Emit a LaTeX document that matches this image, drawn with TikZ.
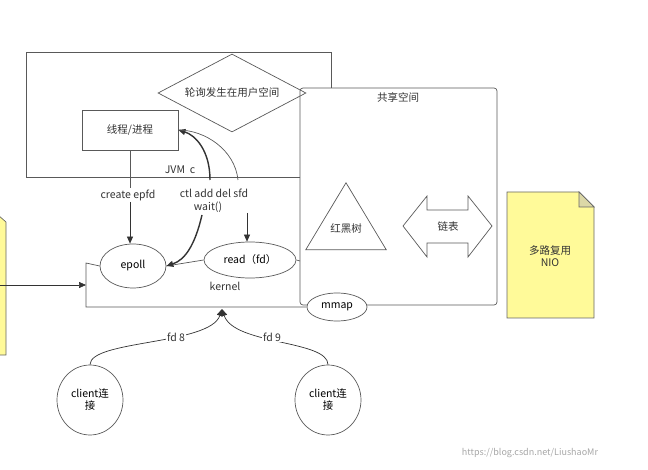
\documentclass[tikz,border=0pt]{standalone}
\usepackage{fontspec}
\setmainfont{Noto Sans CJK SC}
\usetikzlibrary{shapes.geometric,arrows.meta}
\begin{document}
\begin{tikzpicture}[x=1pt,y=-1pt,line width=0.7pt,draw=black!65,
  lbl/.style={font=\fontsize{10.5}{12}\selectfont,text=black!80},
  ell/.style={draw=black!65,ellipse,inner sep=0pt,font=\fontsize{10.5}{12}\selectfont},
  arr/.style={-{Triangle[length=7pt,width=6pt]},draw=black!80},
  note/.style={fill=yellow!40!white,draw=black!60}]
\useasboundingbox (0,0) rectangle (648,470);
% user box
\draw (300,177) -- (26,177) -- (26,52) -- (331,52) -- (331,88);
\node[draw,diamond,aspect=1.9,minimum width=148pt,minimum height=78pt,inner sep=0pt,fill=white,lbl] (poll) at (232,93) {轮询发生在用户空间};
\node[draw,minimum width=96pt,minimum height=40pt,lbl] (thr) at (130,130) {线程/进程};
\node[lbl] (jvm) at (180,170) {JVM\ \ c};
% shared box
\node[draw,rounded corners=3pt,minimum width=197pt,minimum height=217pt,inner sep=0pt] (sh) at (398.5,196.5) {};
\node[lbl] (sht) at (398,97) {共享空间};
\node[draw,isosceles triangle,shape border rotate=90,isosceles triangle apex angle=62,minimum height=67pt,inner sep=0pt] (tri) at (346,227) {};
\node[lbl] at (346,229) {红黑树};
\draw (403,226) -- (427,196) -- (427,210) -- (468,210) -- (468,196) -- (492,226) -- (468,257) -- (468,243) -- (427,243) -- (427,257) -- cycle;
\node[lbl] (dl) at (448,226) {链表};
% notes
\path[note] (507,192) -- (579,192) -- (594,207) -- (594,318) -- (507,318) -- cycle;
\path[draw=black!60,fill=yellow!60!black!40] (579,192) -- (594,207) -- (579,207) -- cycle;
\node[lbl,align=center] (nio) at (550,256) {多路复用\\NIO};
\path[note] (-2,215) -- (6,222) -- (6,355) -- (-2,355) -- cycle;
% kernel
\node[ell,minimum width=66pt,minimum height=44pt,fill=white] (ep) at (133,266) {epoll};
\node[ell,minimum width=92pt,minimum height=36pt,fill=white] (rd) at (250,260) {read（fd）};
\node[ell,minimum width=60pt,minimum height=28pt,fill=white] (mm) at (337,307) {mmap};
\draw (ep.west) -- (86,263) -- (86,307) -- (mm.west);
\draw (ep.east) -- (rd.west);
\draw (rd.east) -- (300,261);
\node[lbl] (ker) at (225,286) {kernel};
\coordinate (kin) at (86,285);
\draw[arr] (0,285) -- (kin);
% arrows
\node[lbl,fill=white,inner sep=1pt] (ce) at (128,195) {create epfd};
\draw (thr.south -| 130,150) -- (ce.north -| 130,0);
\draw[arr] (ce.south -| 130,0) -- (ep.north -| 130,0);
\node[lbl] (ctl) at (214,193) {ctl add del sfd};
\node[lbl] (wt) at (208,207) {wait()};
\draw[arr,line width=1.4pt] (210,180) .. controls (210,150) and (195,135) .. (thr.east);
\draw (238,180) .. controls (235,150) and (205,130) .. (thr.east);
\draw[arr,line width=1.4pt] (202,215) .. controls (195,245) and (185,260) .. (ep.east);
\coordinate (rs) at (247,213);
\draw[arr] (rs) -- (rd.north -| 247,0);
% clients
\node[ell,minimum width=66pt,minimum height=70pt,align=center] (c1) at (90,400) {client连\\接};
\node[ell,minimum width=66pt,minimum height=70pt,align=center] (c2) at (328,400) {client连\\接};
\coordinate (kb) at (222,309);
\draw[arr] (c1.north) .. controls (90,340) and (210,345) .. (kb);
\draw[arr] (c2.north) .. controls (328,340) and (234,345) .. (kb);
\node[lbl,fill=white,inner sep=1pt] at (176,337) {fd 8};
\node[lbl,fill=white,inner sep=1pt] at (272,337) {fd 9};
\node[font=\fontsize{9}{10}\selectfont,text=black!35] at (530,453) {https://blog.csdn.net/LiushaoMr};
\end{tikzpicture}
\end{document}
